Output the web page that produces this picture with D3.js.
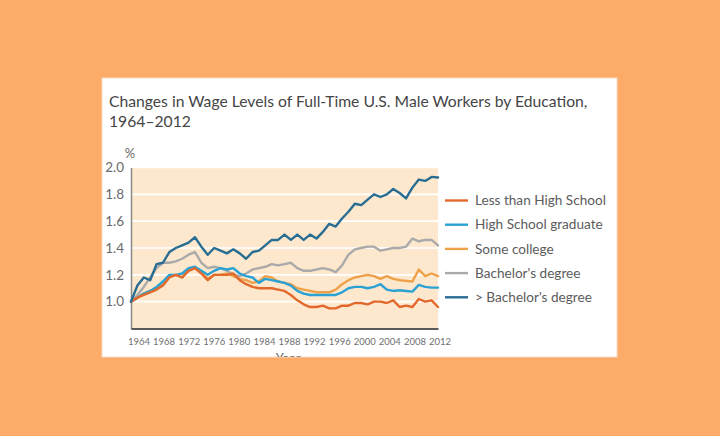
<!DOCTYPE html>
<html>
<head>
<meta charset="utf-8">
<script src="https://cdn.jsdelivr.net/npm/d3@7"></script>
<style>
  html, body { margin: 0; padding: 0; background: #fdab68; }
  svg { display: block; }
  text { font-family: Lato, "Open Sans", sans-serif; }
</style>
</head>
<body>
<svg id="chart" width="720" height="436"></svg>
<script>
// ---- data ----
const years = d3.range(1964, 2013);
const seriesNames = ["Less than High School", "High School graduate", "Some college", "Bachelor's degree", "> Bachelor's degree"];
const seriesColors = ["#e2692b", "#2aa2d4", "#eea148", "#aaaaaa", "#286d93"];

const lessThanHS = [1.00,1.03,1.05,1.07,1.09,1.12,1.18,1.20,1.18,1.23,1.25,1.21,1.16,1.20,1.20,1.20,1.21,1.16,1.13,1.11,1.10,1.10,1.10,1.09,1.08,1.05,1.01,0.98,0.96,0.96,0.97,0.95,0.95,0.97,0.97,0.99,0.99,0.98,1.00,1.00,0.99,1.01,0.96,0.97,0.96,1.02,1.00,1.01,0.96];
const hsGraduate = [1.00,1.03,1.06,1.08,1.11,1.15,1.20,1.20,1.21,1.25,1.26,1.23,1.20,1.23,1.25,1.24,1.25,1.21,1.19,1.18,1.14,1.17,1.16,1.15,1.14,1.12,1.08,1.06,1.05,1.05,1.05,1.05,1.05,1.07,1.10,1.11,1.11,1.10,1.11,1.13,1.09,1.08,1.085,1.08,1.075,1.125,1.11,1.105,1.105];
const someCollege = [1.00,1.03,1.06,1.08,1.10,1.13,1.19,1.20,1.18,1.24,1.25,1.22,1.17,1.20,1.20,1.21,1.19,1.17,1.16,1.14,1.15,1.19,1.18,1.15,1.14,1.13,1.10,1.09,1.08,1.07,1.07,1.07,1.09,1.13,1.16,1.18,1.19,1.20,1.19,1.17,1.19,1.17,1.16,1.155,1.15,1.24,1.19,1.21,1.19];
const bachelors = [1.00,1.05,1.11,1.18,1.25,1.29,1.29,1.30,1.32,1.35,1.37,1.29,1.25,1.26,1.25,1.23,1.20,1.19,1.21,1.24,1.25,1.26,1.28,1.27,1.28,1.29,1.25,1.23,1.23,1.24,1.25,1.24,1.22,1.27,1.35,1.39,1.40,1.41,1.41,1.38,1.39,1.40,1.40,1.41,1.47,1.45,1.46,1.46,1.42];
const graduate = [1.00,1.12,1.18,1.16,1.28,1.29,1.37,1.40,1.42,1.44,1.48,1.41,1.35,1.40,1.38,1.36,1.39,1.36,1.32,1.37,1.38,1.42,1.46,1.46,1.50,1.46,1.50,1.46,1.50,1.47,1.52,1.58,1.56,1.62,1.67,1.73,1.72,1.76,1.80,1.78,1.80,1.84,1.81,1.77,1.85,1.91,1.90,1.93,1.925];

const yTicks = [1.0, 1.2, 1.4, 1.6, 1.8, 2.0];
const xTickYears = d3.range(1964, 2013, 4);
const titleLines = ["Changes in Wage Levels of Full-Time U.S. Male Workers by Education,", "1964–2012"];

const seriesValues = [lessThanHS, hsGraduate, someCollege, bachelors, graduate];
const drawOrder = [3, 2, 1, 0, 4];

// ---- layout ----
const svg = d3.select("#chart");
const card = { x: 102, y: 78, w: 515, h: 279 };
const plot = { left: 131, right: 438, top: 167.5, bottom: 328.5 };

svg.append("defs").append("clipPath").attr("id", "cardClip")
  .append("rect").attr("x", card.x).attr("y", card.y).attr("width", card.w).attr("height", card.h);

svg.append("rect").attr("x", card.x).attr("y", card.y).attr("width", card.w).attr("height", card.h)
  .attr("fill", "#ffffff").attr("stroke", "#f6dcc4").attr("stroke-width", 1);

const g = svg.append("g").attr("clip-path", "url(#cardClip)");

// title
g.append("text").attr("x", 109).attr("y", 107).attr("fill", "#454545")
  .style("font-size", "15.7px")
  .selectAll("tspan").data(titleLines).join("tspan")
  .attr("x", 109).attr("dy", (d, i) => i === 0 ? 0 : 20).text(d => d);

const x = d3.scaleLinear().domain([1964, 2012]).range([plot.left, plot.right]);
const y = d3.scaleLinear().domain([0.8, 2.0]).range([plot.bottom, plot.top]);
const xLabel = d3.scalePoint().domain(xTickYears).range([138.5, 439.5]);

// plot background
g.append("rect").attr("x", plot.left).attr("y", plot.top)
  .attr("width", plot.right - plot.left).attr("height", plot.bottom - plot.top)
  .attr("fill", "#fde8cd");

// gridlines
g.append("g").selectAll("line").data(yTicks).join("line")
  .attr("x1", plot.left).attr("x2", plot.right)
  .attr("y1", d => y(d)).attr("y2", d => y(d))
  .attr("stroke", "#ffffff").attr("stroke-width", 1.6);

// y axis
const yAxis = g.append("g").attr("transform", `translate(${plot.left},0)`)
  .call(d3.axisLeft(y).tickValues(yTicks).tickFormat(d3.format(".1f")).tickSize(0).tickPadding(7));
yAxis.select(".domain").attr("stroke", "#8a8a8a").attr("stroke-width", 1.5);
yAxis.selectAll("text").attr("fill", "#6a6a6a").style("font-size", "13.5px").style("font-family", "Lato, sans-serif");

g.append("text").attr("x", plot.left - 1).attr("y", 158).attr("text-anchor", "middle")
  .attr("fill", "#6a6a6a").style("font-size", "13px").text("%");

// x axis line
const xAxis = g.append("g").attr("transform", `translate(0,${plot.bottom})`)
  .call(d3.axisBottom(x).tickValues([]).tickSize(0));
xAxis.select(".domain").attr("stroke", "#5a5a5a").attr("stroke-width", 1.8);

// x tick labels
const xLab = g.append("g").attr("transform", `translate(0,${plot.bottom})`)
  .call(d3.axisBottom(xLabel).tickSize(0).tickPadding(10).tickFormat(d3.format("d")));
xLab.select(".domain").remove();
xLab.selectAll("text").attr("fill", "#707070").style("font-size", "9.5px").style("font-family", "Lato, sans-serif");

g.append("text").attr("x", 288).attr("y", 363).attr("text-anchor", "middle")
  .attr("fill", "#707070").style("font-size", "13px").text("Year");

// lines
const line = d3.line().x((d, i) => x(years[i])).y(d => y(d)).curve(d3.curveLinear);
g.append("g").selectAll("path").data(drawOrder).join("path")
  .attr("d", i => line(seriesValues[i]))
  .attr("fill", "none").attr("stroke", i => seriesColors[i])
  .attr("stroke-width", 2.4).attr("stroke-linejoin", "round").attr("stroke-linecap", "round");

// legend
const legend = g.append("g").selectAll("g").data(seriesNames).join("g")
  .attr("transform", (d, i) => `translate(445,${200.5 + i * 24.2})`);
legend.append("line").attr("x1", 0).attr("x2", 23).attr("y1", 0).attr("y2", 0)
  .attr("stroke", (d, i) => seriesColors[i]).attr("stroke-width", 2.4);
legend.append("text").attr("x", 30).attr("y", 4.7).attr("fill", "#5c5c5c")
  .style("font-size", "13.6px").text(d => d);
</script>
</body>
</html>
